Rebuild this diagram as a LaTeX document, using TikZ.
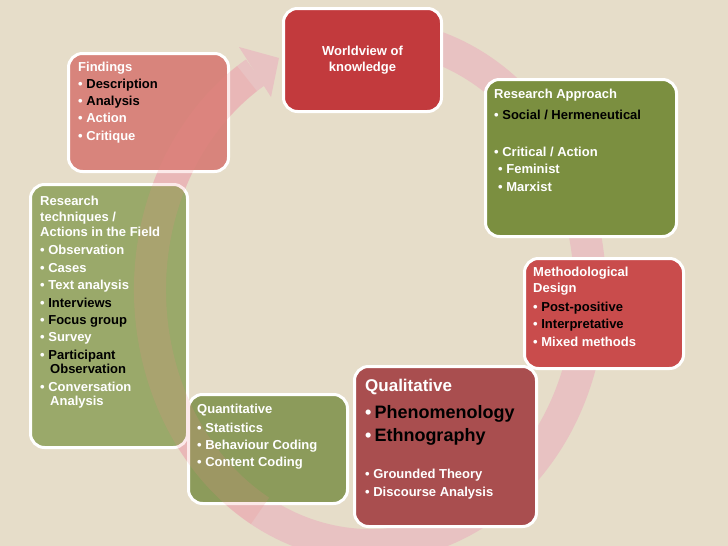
\documentclass[tikz,border=0pt]{standalone}
\usepackage{fontspec}
\setmainfont{Liberation Sans}
\usetikzlibrary{positioning,arrows.meta}
\definecolor{bgbeige}{HTML}{E6DDC9}
\definecolor{ringpink}{HTML}{E8C2C2}
\definecolor{darkred}{HTML}{C23A3D}
\definecolor{salmon}{HTML}{D8847C}
\definecolor{olivedark}{HTML}{7B8F40}
\definecolor{olivelight}{HTML}{9AA96A}
\definecolor{olivemid}{HTML}{8C9B5B}
\definecolor{brickred}{HTML}{C94C4C}
\definecolor{rosered}{HTML}{A94E4F}
\newcommand{\wb}[1]{\textcolor{white}{\textbullet~#1}}
\newcommand{\kb}[1]{\textcolor{white}{\textbullet}~\textcolor{black}{#1}}
\begin{document}
\begin{tikzpicture}[x=1pt,y=-1pt,
	box/.style={draw=white,line width=3pt,rounded corners=14pt,anchor=north west,inner sep=0pt},
	txt/.style={anchor=north west,align=left,text=white,font=\bfseries\fontsize{13}{17.4}\selectfont,inner sep=0pt},
	ring/.style={line width=32pt}
]

	\fill[bgbeige] (0,0) rectangle (728,546);
	\useasboundingbox (0,0) rectangle (728,546);
	\draw[ringpink,ring] (370,290) ++(283:220 and 255) arc (283:598.6:220 and 255);
	\fill[ringpink] (239,47) -- (279,58) -- (271,97) -- cycle;

	% boxes
	\node[box,fill=darkred,minimum width=158pt,minimum height=103pt] (world) at (282,7) {};
	\node[box,fill=salmon,minimum width=160pt,minimum height=118pt] (find) at (67,52) {};
	\node[box,fill=olivedark,minimum width=191pt,minimum height=157pt] (appr) at (484,78) {};
	\node[box,fill=brickred,minimum width=159pt,minimum height=110pt] (meth) at (523,257) {};
	\node[box,fill=olivelight,minimum width=157pt,minimum height=263pt] (tech) at (29,183) {};
	\node[box,fill=olivemid,minimum width=159pt,minimum height=109pt] (quan) at (187,393) {};
	\node[box,fill=rosered,minimum width=182pt,minimum height=160pt] (qual) at (353,365) {};

	% faint ring over the boxes
	\begin{scope}[opacity=.18]
		\draw[ringpink!70!red,ring] (370,290) ++(120:220 and 255) arc (120:236:220 and 255);
	\end{scope}

	% texts
	\node[txt,align=center,anchor=north] (worldtxt) at ([yshift=-39pt]world.north) {Worldview of\\[-2pt]knowledge};
	\node[txt,below right=10pt and 11pt of find.north west] (findtxt) {Findings\\[-1pt]
		\kb{Description}\\\kb{Analysis}\\\wb{Action}\\\wb{Critique}};
	\node[txt,below right=11pt and 10pt of appr.north west] (apprtxt) {Research Approach\\[3pt]
		\kb{Social / Hermeneutical}\\[20pt]
		\wb{Critical / Action}\\
		\hspace*{4pt}\wb{Feminist}\\\hspace*{4pt}\wb{Marxist}};
	\node[txt,below right=10pt and 10pt of meth.north west] (methtxt) {Methodological\\[-2pt]Design\\[2pt]
		\kb{Post-positive}\\\kb{Interpretative}\\\wb{Mixed methods}};
	\node[txt,below right=13pt and 11pt of tech.north west] (techtxt) {Research\\[-2pt]techniques /\\[-2pt]Actions in the Field\\[1pt]
		\wb{Observation}\\\wb{Cases}\\\wb{Text analysis}\\\kb{Interviews}\\
		\kb{Focus group}\\\wb{Survey}\\\kb{Participant}\\[-3pt]\hspace*{10pt}\textcolor{black}{Observation}\\
		\wb{Conversation}\\[-3pt]\hspace*{10pt}Analysis};
	\node[txt,below right=11pt and 10pt of quan.north west] (quantxt) {Quantitative\\[1pt]
		\wb{Statistics}\\\wb{Behaviour Coding}\\\wb{Content Coding}};
	\node[txt,below right=14pt and 12pt of qual.north west] (qualtxt) {{\fontsize{17}{17}\selectfont Qualitative}\\[10pt]
		{\fontsize{18}{17}\selectfont\textcolor{white}{\textbullet}\,\textcolor{black}{Phenomenology}}\\[5pt]
		{\fontsize{18}{17}\selectfont\textcolor{white}{\textbullet}\,\textcolor{black}{Ethnography}}\\[20pt]
		\wb{Grounded Theory}\\\wb{Discourse Analysis}};
\end{tikzpicture}
\end{document}
